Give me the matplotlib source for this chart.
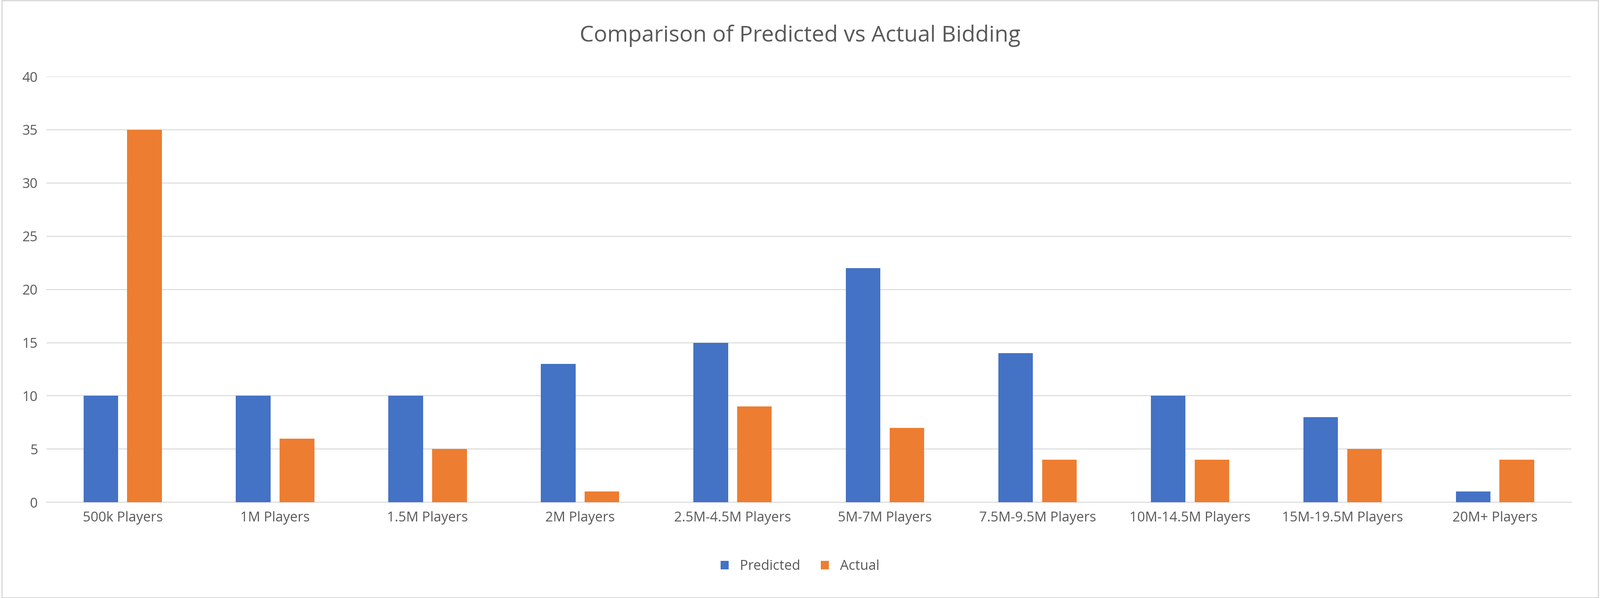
import matplotlib
matplotlib.use('Agg')
import matplotlib.pyplot as plt
import numpy as np

categories = ['500k Players', '1M Players', '1.5M Players', '2M Players', '2.5M-4.5M Players',
              '5M-7M Players', '7.5M-9.5M Players', '10M-14.5M Players', '15M-19.5M Players', '20M+ Players']
predicted = [10, 10, 10, 13, 15, 22, 14, 10, 8, 1]
actual = [35, 6, 5, 1, 9, 7, 4, 4, 5, 4]

plt.rcParams['font.family'] = 'Open Sans'
fig = plt.figure(figsize=(35.77, 13.36), dpi=100)
ax = fig.add_axes([0.029, 0.160, 0.953, 0.712])

x = np.arange(len(categories))
w = 0.227
gap = 0.03
ax.bar(x - w / 2 - gap, predicted, w, color='#4472C4', label='Predicted', zorder=3)
ax.bar(x + w / 2 + gap, actual, w, color='#ED7D31', label='Actual', zorder=3)

ax.set_xlim(-0.5, len(categories) - 0.5)
ax.set_ylim(0, 40)
ax.set_yticks(range(0, 41, 5))
ax.yaxis.grid(True, color='#D9D9D9', linewidth=1.5, zorder=0)
ax.set_xticks(x)
ax.set_xticklabels(categories)
ax.tick_params(axis='both', length=0, labelsize=22, colors='#595959', pad=14)
for s in ['top', 'right', 'left']:
    ax.spines[s].set_visible(False)
ax.spines['bottom'].set_color('#D9D9D9')
ax.spines['bottom'].set_linewidth(1.5)

fig.text(0.5, 0.94, 'Comparison of Predicted vs Actual Bidding', ha='center', va='center',
         fontsize=36, color='#595959')
fig.legend(loc='center', bbox_to_anchor=(0.5, 0.053), ncol=2, frameon=False,
           fontsize=22, labelcolor='#595959', handlelength=0.6, handleheight=0.6, columnspacing=1.5)

fig.patches.append(plt.Rectangle((0.001, 0.001), 0.998, 0.998, transform=fig.transFigure,
                                 fill=False, edgecolor='#D9D9D9', linewidth=2))
fig.savefig('out.png', dpi=100, facecolor='white')
